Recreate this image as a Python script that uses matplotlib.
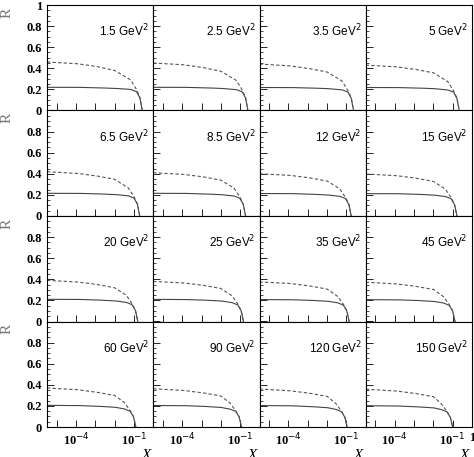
import numpy as np
import matplotlib
matplotlib.use("Agg")
import matplotlib.pyplot as plt
from matplotlib.ticker import FixedLocator, NullLocator, MultipleLocator

q2_labels = ["1.5", "2.5", "3.5", "5", "6.5", "8.5", "12", "15",
             "20", "25", "35", "45", "60", "90", "120", "150"]
# log10(x) where R drops to zero
end_logx = [-0.57, -0.60, -0.63, -0.66, -0.70, -0.72, -0.75, -0.78,
            -0.80, -0.83, -0.86, -0.88, -0.90, -0.93, -0.96, -1.00]
# knots: -5.5, -4, -3, -2, end-0.6, end-0.3, end-0.12, end
solid_vals = [
    [0.220, 0.220, 0.216, 0.210, 0.200, 0.180, 0.120, 0.0],
    [0.220, 0.220, 0.216, 0.210, 0.198, 0.178, 0.118, 0.0],
    [0.218, 0.218, 0.214, 0.208, 0.196, 0.176, 0.116, 0.0],
    [0.218, 0.218, 0.214, 0.208, 0.195, 0.175, 0.115, 0.0],
    [0.215, 0.215, 0.211, 0.204, 0.192, 0.170, 0.112, 0.0],
    [0.215, 0.215, 0.210, 0.203, 0.190, 0.168, 0.110, 0.0],
    [0.213, 0.213, 0.208, 0.200, 0.187, 0.165, 0.108, 0.0],
    [0.212, 0.212, 0.207, 0.199, 0.185, 0.163, 0.106, 0.0],
    [0.210, 0.210, 0.205, 0.196, 0.182, 0.160, 0.104, 0.0],
    [0.210, 0.209, 0.204, 0.195, 0.180, 0.158, 0.102, 0.0],
    [0.208, 0.207, 0.202, 0.193, 0.178, 0.155, 0.100, 0.0],
    [0.207, 0.206, 0.201, 0.191, 0.176, 0.153, 0.098, 0.0],
    [0.205, 0.204, 0.198, 0.188, 0.172, 0.150, 0.096, 0.0],
    [0.204, 0.203, 0.197, 0.186, 0.170, 0.148, 0.094, 0.0],
    [0.203, 0.202, 0.195, 0.184, 0.168, 0.146, 0.092, 0.0],
    [0.202, 0.200, 0.193, 0.182, 0.166, 0.144, 0.090, 0.0],
]
dashed_vals = [
    [0.460, 0.445, 0.420, 0.380, 0.290, 0.200, 0.125, 0.0],
    [0.450, 0.435, 0.410, 0.372, 0.285, 0.196, 0.122, 0.0],
    [0.440, 0.425, 0.400, 0.365, 0.280, 0.192, 0.120, 0.0],
    [0.430, 0.416, 0.392, 0.358, 0.275, 0.190, 0.118, 0.0],
    [0.420, 0.405, 0.382, 0.348, 0.268, 0.185, 0.115, 0.0],
    [0.410, 0.396, 0.374, 0.340, 0.264, 0.182, 0.113, 0.0],
    [0.400, 0.387, 0.365, 0.332, 0.258, 0.178, 0.110, 0.0],
    [0.398, 0.384, 0.362, 0.328, 0.255, 0.176, 0.108, 0.0],
    [0.390, 0.376, 0.354, 0.320, 0.250, 0.172, 0.106, 0.0],
    [0.380, 0.367, 0.346, 0.313, 0.245, 0.168, 0.104, 0.0],
    [0.375, 0.362, 0.340, 0.308, 0.240, 0.165, 0.102, 0.0],
    [0.372, 0.358, 0.336, 0.304, 0.236, 0.162, 0.100, 0.0],
    [0.370, 0.355, 0.332, 0.300, 0.232, 0.158, 0.098, 0.0],
    [0.362, 0.348, 0.326, 0.294, 0.228, 0.155, 0.096, 0.0],
    [0.360, 0.345, 0.323, 0.291, 0.225, 0.152, 0.094, 0.0],
    [0.358, 0.343, 0.320, 0.288, 0.222, 0.150, 0.092, 0.0],
]

fig = plt.figure(figsize=(4.74, 4.57), dpi=100)
left, right, bottom, top = 47/474, 472/474, 1-427/457, 1-5/457
axes = fig.subplots(4, 4, gridspec_kw=dict(left=left, right=right, bottom=bottom, top=top,
                                           wspace=0, hspace=0))
serif = dict(family="Liberation Serif", weight="bold")
for i in range(16):
    r, c = divmod(i, 4)
    ax = axes[r, c]
    e = end_logx[i]
    knots = np.array([-5.5, -4, -3, -2, e-0.6, e-0.3, e-0.12, e])
    fine = np.linspace(-5.5, e, 300)
    ys = np.interp(fine, knots, solid_vals[i])
    yd = np.interp(fine, knots, dashed_vals[i])
    ax.plot(10**fine, ys, color="#444444", lw=0.8)
    ax.plot(10**fine, yd, color="#555555", lw=0.8, ls=(0, (3, 2)))
    ax.set_xscale("log")
    ax.set_xlim(10**-5.5, 1)
    ax.set_ylim(0, 1)
    ax.xaxis.set_major_locator(FixedLocator([1e-5, 1e-4, 1e-3, 1e-2, 1e-1, 1]))
    ax.xaxis.set_minor_locator(NullLocator())
    ax.yaxis.set_major_locator(MultipleLocator(0.2))
    ax.yaxis.set_minor_locator(MultipleLocator(0.05))
    ax.tick_params(which="both", direction="in", top=False, right=False)
    ax.tick_params(which="major", length=5, width=0.6)
    ax.tick_params(which="minor", length=2.5, width=0.5)
    for s in ax.spines.values():
        s.set_linewidth(0.8)
    ax.text(0.96, 0.75, q2_labels[i] + r" GeV$^2$", transform=ax.transAxes, ha="right",
            va="center", fontsize=8.5, family="Liberation Sans")
    if c == 0:
        ax.set_yticks([0, 0.2, 0.4, 0.6, 0.8, 1.0])
        lbls = ["0", "0.2", "0.4", "0.6", "0.8", "1" if r == 0 else ""]
        ax.set_yticklabels(lbls, **serif, fontsize=9)
        ax.text(-0.38, 0.93, "R", transform=ax.transAxes, rotation=90, ha="center",
                va="center", fontsize=11, color="#777777", family="Liberation Serif")
    else:
        ax.set_yticklabels([])
    if r == 3:
        lab1 = "1" if c == 3 else ""
        ax.set_xticklabels(["", r"10$^{-4}$", "", "", r"10$^{-1}$", lab1], **serif, fontsize=9)
        ax.text(0.93, -0.27, "X", transform=ax.transAxes, ha="center", va="center",
                fontsize=11, style="italic", family="Liberation Serif")
    else:
        ax.set_xticklabels([])

fig.savefig("out.png", dpi=100)
